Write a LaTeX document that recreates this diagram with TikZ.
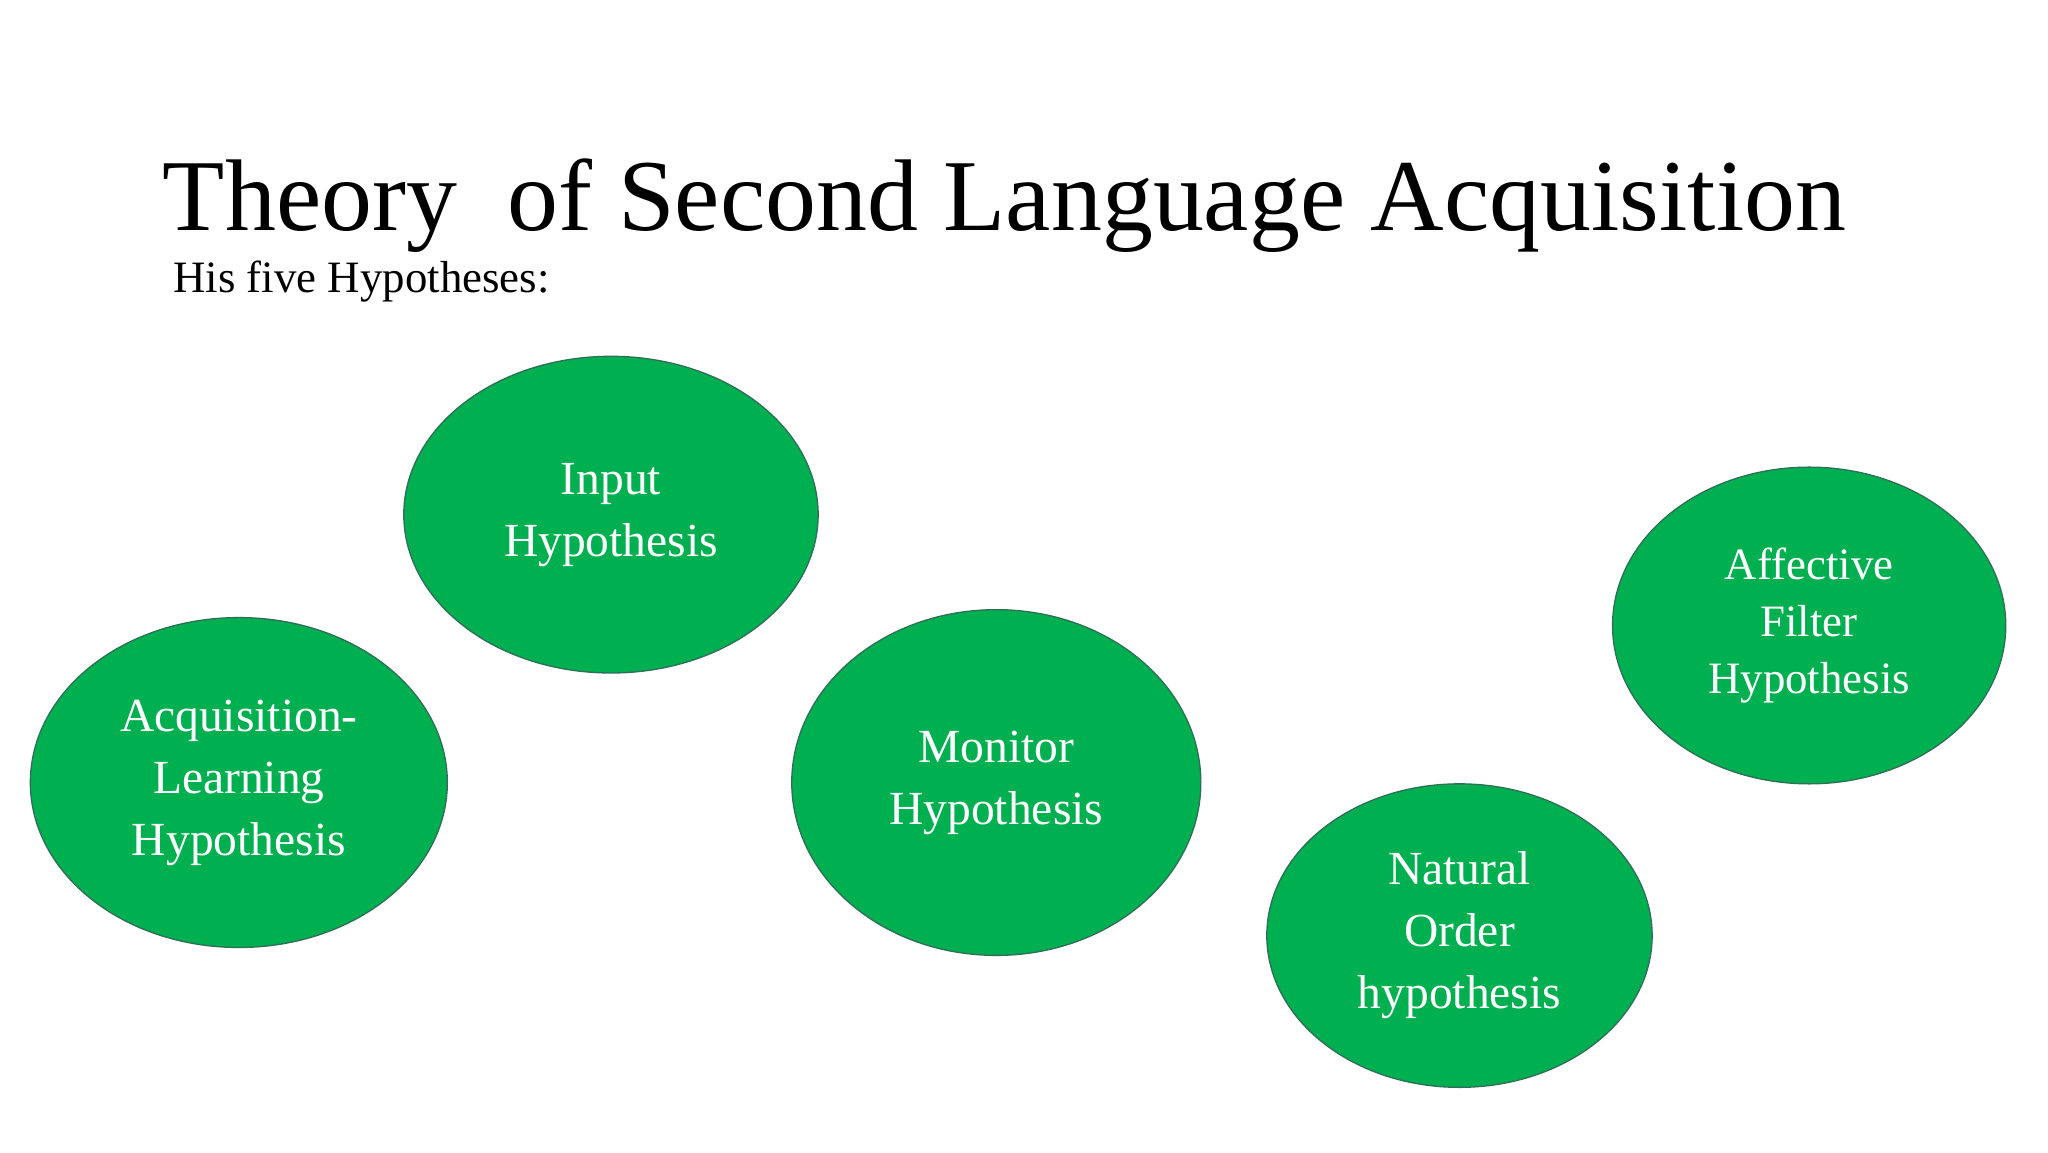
\documentclass[tikz,border=0pt]{standalone}
\usepackage{fontspec}
\setmainfont{Liberation Serif}
\usetikzlibrary{shapes.geometric}
\definecolor{hypgreen}{HTML}{00B050}
\definecolor{hypedge}{HTML}{2F6E5A}
\begin{document}
\begin{tikzpicture}[x=0.5pt,y=-0.5pt,
  hyp/.style={ellipse,fill=hypgreen,draw=hypedge,line width=0.5pt,inner sep=0pt,
    text=white,align=center,font=\fontsize{18}{23.5}\selectfont}]
\useasboundingbox (0,0) rectangle (1552,873);
\node[anchor=base west,inner sep=0pt,font=\fontsize{38.6}{44}\selectfont] (title) at (123,175) {Theory\ \ of Second Language Acquisition};
\node[anchor=base west,inner sep=0pt,font=\fontsize{17}{20}\selectfont] (sub) at (131,222) {His five Hypotheses:};
\node[hyp,minimum width=157pt,minimum height=120pt] (input) at (463,390) {Input\\Hypothesis};
\node[hyp,minimum width=158pt,minimum height=125pt] (acq) at (181,593) {Acquisition-\\Learning\\Hypothesis};
\node[hyp,minimum width=155pt,minimum height=131pt] (mon) at (755,593) {Monitor\\Hypothesis};
\node[hyp,minimum width=146pt,minimum height=115pt] (nat) at (1106,709) {Natural\\Order\\hypothesis};
\node[hyp,minimum width=149pt,minimum height=120pt,font=\fontsize{17}{21.5}\selectfont] (aff) at (1371,474) {Affective\\Filter\\Hypothesis};
\end{tikzpicture}
\end{document}
